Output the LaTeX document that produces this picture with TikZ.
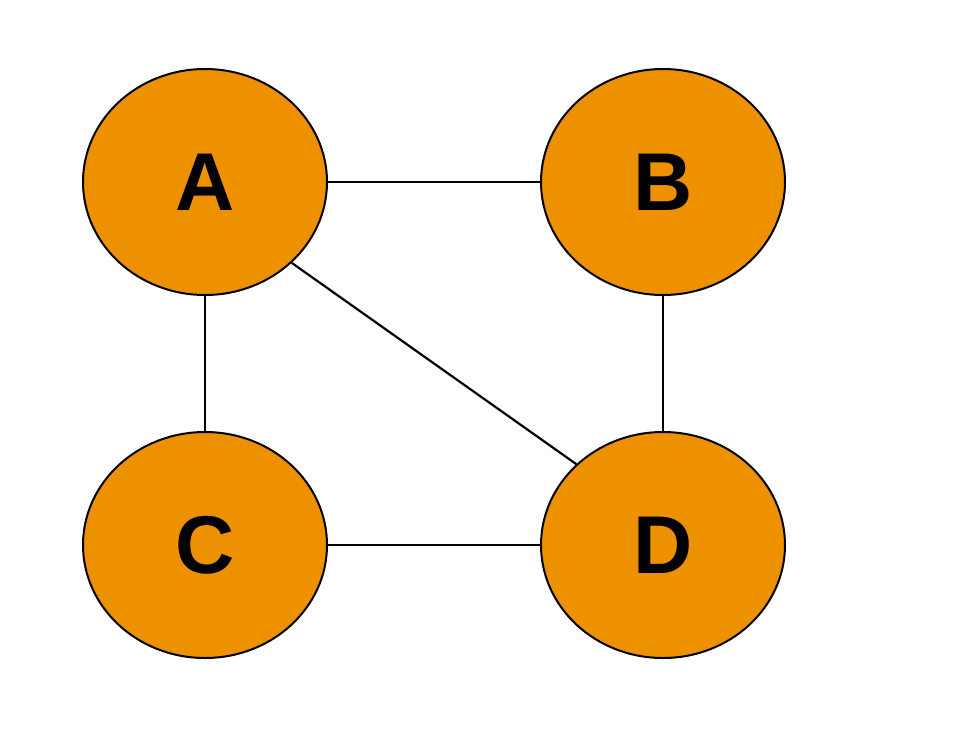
\documentclass[tikz,border=0pt]{standalone}
\usepackage{fontspec}
\setmainfont{Liberation Sans}
\usetikzlibrary{shapes.geometric}
\definecolor{nodeorange}{HTML}{EE9100}
\begin{document}
\begin{tikzpicture}[x=1pt,y=-1pt,
  vertex/.style={ellipse, draw=black, line width=2pt, fill=nodeorange,
    minimum width=244pt, minimum height=226pt, inner sep=0pt,
    font=\fontsize{82}{82}\selectfont\bfseries},
  edge/.style={line width=2.2pt, draw=black}]
\useasboundingbox (0,0) rectangle (975,732);
\node[vertex] (A) at (205,182) {A};
\node[vertex] (B) at (663,182) {B};
\node[vertex] (C) at (205,545) {C};
\node[vertex] (D) at (663,545) {D};
\draw[edge] (A) -- (B);
\draw[edge] (A) -- (C);
\draw[edge] (B) -- (D);
\draw[edge] (C) -- (D);
\draw[edge] (A.-43) -- (D.137);
\end{tikzpicture}
\end{document}
